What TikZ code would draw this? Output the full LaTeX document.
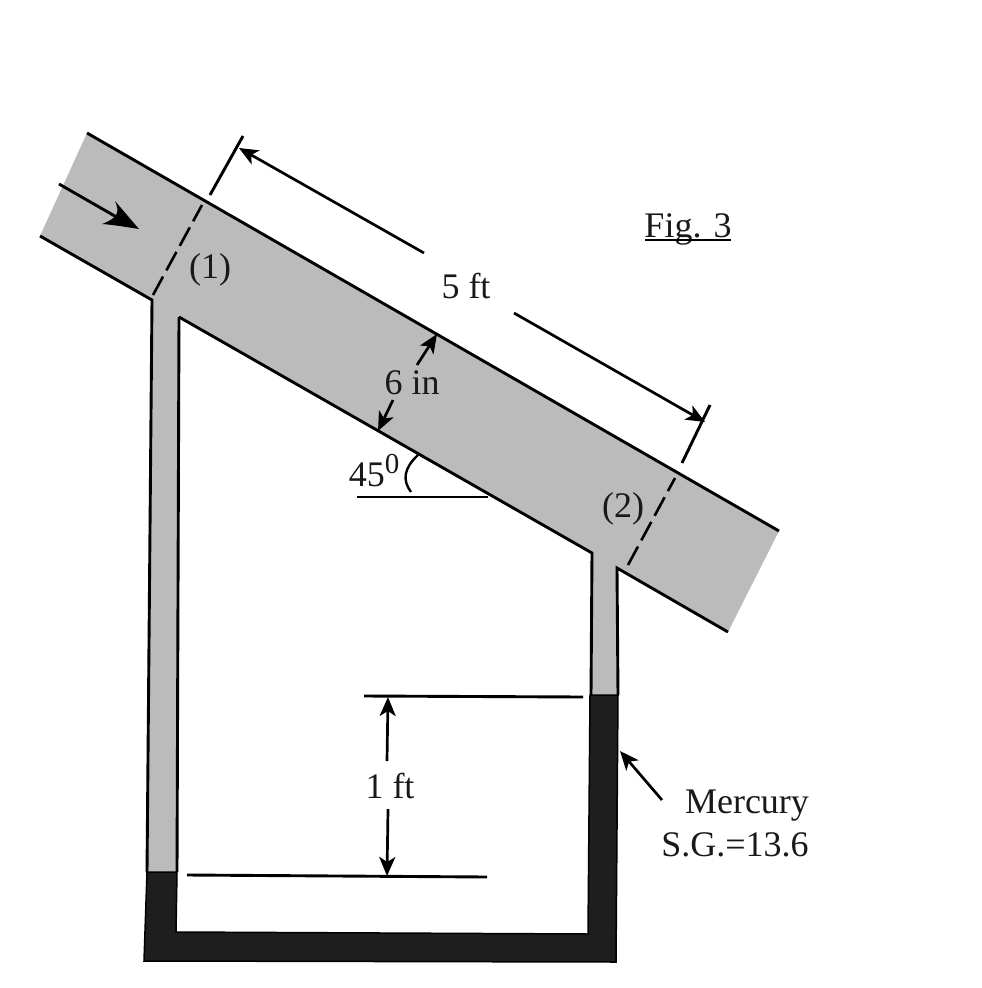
\documentclass[tikz,border=0pt]{standalone}
\usepackage{fontspec}
\setmainfont{Liberation Serif}
\usetikzlibrary{arrows.meta}
\definecolor{fluid}{HTML}{BBBBBB}
\definecolor{merc}{HTML}{1E1E1E}
\tikzset{
  wall/.style={line width=2.9pt,black},
  dim/.style={line width=2.7pt,black,-{Stealth[length=19pt,width=16pt,inset=5pt]}},
  sect/.style={line width=2.6pt,black,dash pattern=on 21pt off 7pt},
  lbl/.style={font=\fontsize{36}{40}\selectfont,inner sep=0pt,text=black!90},
}
\begin{document}
\begin{tikzpicture}[x=1pt,y=-1pt]
\useasboundingbox (0,0) rectangle (982,988);
% key points
\coordinate (TL) at (87,133);
\coordinate (TR) at (779,531);
\coordinate (BL) at (40,236);
\coordinate (J1) at (152,300);
\coordinate (I1) at (179,317);
\coordinate (J2) at (592,553);
\coordinate (I2) at (617,568);
\coordinate (BR) at (728,632);
% fluid
\fill[fluid] (TL) -- (TR) -- (BR) -- (I2) -- (617,695) -- (591,695) -- (J2) -- (I1) -- (177,872) -- (147,872) -- (J1) -- (BL) -- cycle;
% mercury
\fill[merc,draw=black,line width=1.5pt] (147,872) -- (177,872) -- (176,932) -- (588,934) -- (590,695) -- (618,695) -- (616,962) -- (144,961) -- cycle;
% walls
\draw[wall] (TL) -- (TR);
\draw[wall] (BL) -- (J1) -- (147,872);
\draw[wall] (I1) -- (J2) -- (591,695);
\draw[wall] (I1) -- (177,872);
\draw[wall] (BR) -- (I2) -- (618,695);
% sections
\coordinate (S1a) at (202,205);
\coordinate (S1b) at (153,295);
\coordinate (S2a) at (675,478);
\coordinate (S2b) at (628,565);
\draw[sect] (S1b) -- (S1a);
\draw[sect] (S2b) -- (S2a);
% extension lines
\draw[wall] (210,195) coordinate (E1a) -- (243,136) coordinate (E1b);
\draw[wall] (682,463) coordinate (E2a) -- (710,405) coordinate (E2b);
% flow arrow
\coordinate (F0) at (59,184);
\coordinate (F1) at (120,219);
\draw[wall] (F0) -- (F1);
\fill[black] (139,229) -- (115,201) .. controls (120,212) and (118,218) .. (102,224) .. controls (115,225) and (126,227) .. cycle;
% 5 ft
\node[lbl] (five) at (466,286) {5 ft};
\coordinate (D1a) at (424,253);
\coordinate (D1b) at (239,148);
\coordinate (D2a) at (514,313);
\coordinate (D2b) at (705,422);
\draw[dim] (D1a) -- (D1b);
\draw[dim] (D2a) -- (D2b);
% 6 in
\node[lbl] (six) at (412,383) {6 in};
\coordinate (W1a) at (417,365);
\coordinate (W1b) at (437,334);
\coordinate (W2a) at (393,400);
\coordinate (W2b) at (378,431);
\draw[dim] (W1a) -- (W1b);
\draw[dim] (W2a) -- (W2b);
% angle
\coordinate (H0) at (357,497);
\coordinate (H1) at (488,497);
\draw[wall] (H0) -- (H1);
\coordinate (A0) at (411,492);
\coordinate (A1) at (418,455);
\draw[line width=2.4pt] (A0) .. controls (402,480) and (404,468) .. (A1);
\node[lbl] (ang) at (374,471) {45\raisebox{0.36em}{\fontsize{29}{29}\selectfont 0}};
% labels
\node[lbl] (s1) at (210,270) {(1)};
\node[lbl] (s2) at (623,509) {(2)};
\node[lbl] (fig) at (688,229) {Fig. 3};
\coordinate (U0) at (645,240);
\coordinate (U1) at (731,240);
\draw[line width=2.2pt] (U0) -- (U1);
% 1 ft
\coordinate (L1a) at (364,696);
\coordinate (L1b) at (583,697);
\coordinate (L2a) at (187,875);
\coordinate (L2b) at (487,877);
\draw[wall] (L1a) -- (L1b);
\draw[wall] (L2a) -- (L2b);
\node[lbl] (one) at (390,786) {1 ft};
\coordinate (V1a) at (387,761);
\coordinate (V1b) at (388,697);
\coordinate (V2a) at (388,809);
\coordinate (V2b) at (387,876);
\draw[dim] (V1a) -- (V1b);
\draw[dim] (V2a) -- (V2b);
% mercury label
\node[lbl] (hg) at (747,806) {Mercury};
\node[lbl] (sg) at (735,845) {S.G.=13.6};
\coordinate (M0) at (662,800);
\coordinate (M1) at (620,751);
\draw[dim] (M0) -- (M1);
\end{tikzpicture}
\end{document}
